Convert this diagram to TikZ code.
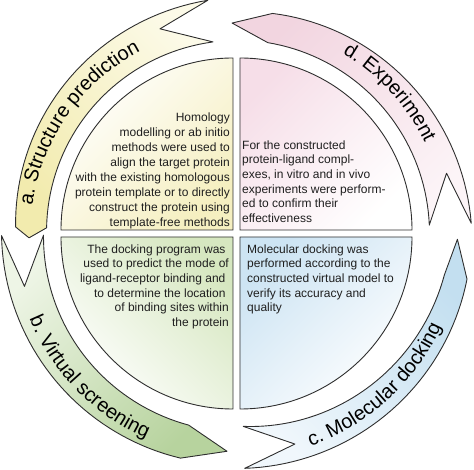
\documentclass[tikz,border=0pt]{standalone}
\usepackage{fontspec}
\setmainfont{Liberation Sans}
\usetikzlibrary{decorations.text}
\definecolor{linegray}{HTML}{2E2E2E}
\definecolor{yelhead}{HTML}{F2EBAE}
\definecolor{yeltail}{HTML}{FCFAE8}
\definecolor{grnhead}{HTML}{B7D39E}
\definecolor{grntail}{HTML}{EEF5E6}
\definecolor{bluhead}{HTML}{C3DFF0}
\definecolor{blutail}{HTML}{F0F7FC}
\definecolor{pnkhead}{HTML}{F2D5E0}
\definecolor{pnktail}{HTML}{FCF4F7}
\definecolor{yelquad}{HTML}{F5EFC0}
\definecolor{pnkquad}{HTML}{F6DEE8}
\definecolor{grnquad}{HTML}{D6E7C0}
\definecolor{bluquad}{HTML}{CDE4F3}
% tail angle, shoulder angle, tip angle, tip radius, inner and outer radius at the head, fill
\newcommand{\cyclearrow}[7]{%
	\draw[band, #7] (#1:235) -- ({#1+13.5}:218.5) -- (#1:193)
		-- plot[domain=0:1, samples=40] ({#1+(#2-#1)*\x}:{193+(#5-193)*\x})
		-- (#3:#4)
		-- plot[domain=0:1, samples=40] ({#2-(#2-#1)*\x}:{#6+(235-#6)*\x})
		-- cycle;}
\begin{document}
\begin{tikzpicture}[x=1pt, y=1pt,
		band/.style={draw=linegray, line width=0.9pt, line join=round},
		quad/.style={draw=linegray, line width=0.9pt},
		info/.style={inner sep=0pt, font=\fontsize{12}{14.6}\selectfont, text=black!88},
		ringlabel/.style={decorate, decoration={text along path, text align=center, text={|\fontsize{20}{20}\selectfont|#1}}}]
		\useasboundingbox (-236.5,-236.5) rectangle (237.5,233.5);
		\draw[quad, top color=white, bottom color=yelquad, shading angle=45] (-3.5,3.5) -- ++(0,172) arc (90:180:172) -- cycle;
		\draw[quad, top color=pnkquad, bottom color=white, shading angle=45] (3.5,3.5) -- ++(172,0) arc (0:90:172) -- cycle;
		\draw[quad, top color=grnquad, bottom color=white, shading angle=-45] (-3.5,-3.5) -- ++(-172,0) arc (180:270:172) -- cycle;
		\draw[quad, top color=bluquad, bottom color=white, shading angle=45] (3.5,-3.5) -- ++(0,-172) arc (270:360:172) -- cycle;
		\node[info, font=\fontsize{12}{15}\selectfont, align=right, anchor=north east] (model) at (-6.5,121) {Homology\\modelling or ab initio\\methods were used to\\align the target protein\\with the existing homologous\\protein template or to directly\\construct the protein using\\template-free methods};
		\node[info, align=left, anchor=north west] (assay) at (5.5,93) {For the constructed\\protein-ligand compl-\\exes, in vitro and in vivo\\experiments were perform-\\ed to confirm their\\effectiveness};
		\node[info, align=right, anchor=north east] (screen) at (-7.5,-10.9) {The docking program was~\mbox{}\\used to predict the mode of\\ligand-receptor binding and~\mbox{}\\to determine the location~\mbox{}\\of binding sites within\\the protein};
		\node[info, align=left, anchor=north west] (dock) at (10.5,-10.9) {Molecular docking was\\performed according to the\\constructed virtual model to\\verify its accuracy and\\quality};
		\cyclearrow{97}{178.3}{181.2}{207.5}{190}{221}{bottom color=yelhead, top color=yeltail, shading angle=-45}
		\cyclearrow{180.5}{256}{267.5}{218}{197.5}{231.5}{bottom color=grnhead, top color=grntail, shading angle=45}
		\cyclearrow{272}{348.8}{358.5}{221}{212}{235}{top color=bluhead, bottom color=blutail, shading angle=-45}
		\cyclearrow{2.5}{80.7}{91.2}{210.5}{193.4}{223}{top color=pnkhead, bottom color=pnktail, shading angle=45}
		\path[ringlabel=a. Structure prediction] (190:206) arc (190:100:206);
		\path[ringlabel=d. Experiment] (87.6:209) arc (87.6:-2.4:209);
		\path[ringlabel=b. Virtual screening] (179.3:224) arc (179.3:269.3:224);
		\path[ringlabel=c. Molecular docking] (-92.6:225) arc (-92.6:-2.6:225);
	\end{tikzpicture}
\end{document}
